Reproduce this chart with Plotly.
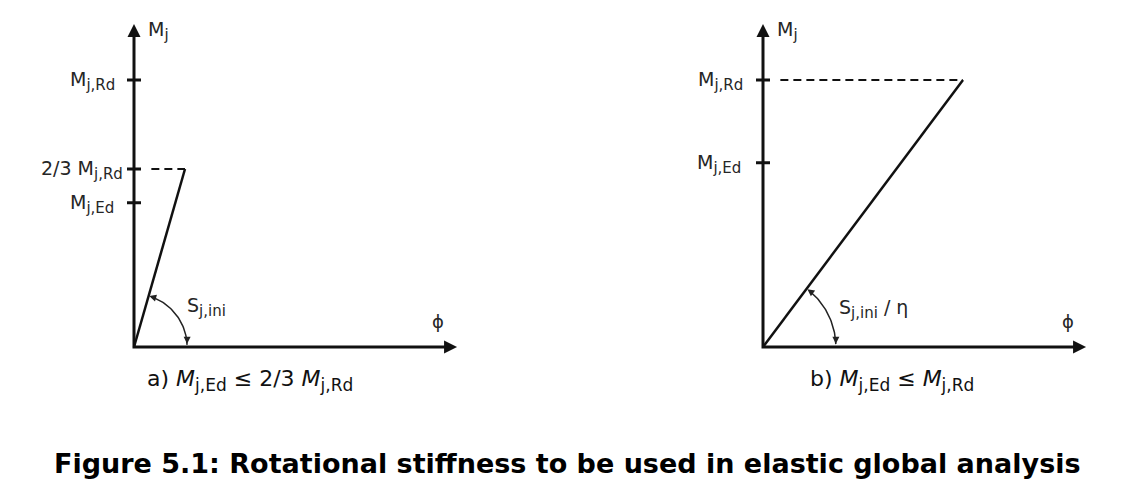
import numpy as np
import plotly.graph_objects as go

# ---- data (moment in units of M_j,Rd, rotation in same drawing units) ----
panels = ["a", "b"]
M_Rd = [1.0, 1.0]
M_Ed = [0.54, 0.69]
M_lim = [2 / 3, 1.0]            # end of the linear branch
phi_end = [0.191, 0.749]        # rotation at end of the linear branch
tick_vals = [[1.0, 2 / 3, 0.54], [1.0, 0.69]]
SUB = "<sub><span style='font-size:15px'>%s</span></sub>"
tick_text = [["M" + SUB % "j,Rd", "2/3 M" + SUB % "j,Rd", "M" + SUB % "j,Ed"],
             ["M" + SUB % "j,Rd", "M" + SUB % "j,Ed"]]
stiff_labels = ["S" + SUB % "j,ini", "S" + SUB % "j,ini" + " / η"]
CSUB = "<sub><span style='font-size:17px'>%s</span></sub>"
captions = ["a) <i>M</i>" + CSUB % "j,Ed" + " ≤ 2/3 <i>M</i>" + CSUB % "j,Rd",
            "b) <i>M</i>" + CSUB % "j,Ed" + " ≤ <i>M</i>" + CSUB % "j,Rd"]
title = "<b>Figure 5.1: Rotational stiffness to be used in elastic global analysis</b>"

# ---- layout constants ----
OFF = 8                         # page body margin
W, H = 1135, 496
S = 267.0                       # pixels per unit
origin_px = [134 - OFF, 763 - OFF]
oy_px = 347 - OFF
AX_LEN = 1.21
arc_r = [0.199, 0.273]
dash_start = 0.065
label_shift = [[-17, -9, -18], [-18, -20]]
stiff_pos = [(0.191, 0.161), (0.277, 0.154)]
phi_pos = [1.139, 1.142]
cap_x = [0.041, 0.169]

FONT = "DejaVu Sans, Liberation Sans, sans-serif"
TXT = "#262626"

fig = go.Figure()
doms = [[0, 0.5], [0.5, 1.0]]
yr = [-(H - oy_px) / S, oy_px / S]
annotations = []

for i in range(2):
    xa = "x" if i == 0 else "x2"
    ya = "y" if i == 0 else "y2"
    lo = doms[i][0] * W
    hi = doms[i][1] * W
    xr = [-(origin_px[i] - lo) / S, (hi - origin_px[i]) / S]
    kx = dict(range=xr, domain=doms[i], visible=False, fixedrange=True)
    ky = dict(range=yr, domain=[0, 1], visible=False, fixedrange=True)
    if i == 0:
        fig.update_layout(xaxis=kx, yaxis=ky)
    else:
        fig.update_layout(xaxis2=dict(kx, anchor="y2"), yaxis2=dict(ky, anchor="x2"))

    line_k = dict(xaxis=xa, yaxis=ya, hoverinfo="skip", showlegend=False)
    # axes
    fig.add_trace(go.Scatter(x=[0, 0, AX_LEN - 0.03], y=[AX_LEN - 0.03, 0, 0], mode="lines",
                             line=dict(color="#111", width=3), **line_k))
    fig.add_trace(go.Scatter(x=[0], y=[AX_LEN], mode="markers",
                             marker=dict(symbol="arrow-up", size=13, color="#111"), **line_k))
    fig.add_trace(go.Scatter(x=[AX_LEN], y=[0], mode="markers",
                             marker=dict(symbol="arrow-right", size=13, color="#111"), **line_k))
    # ticks
    tw = 7 / S
    for v in tick_vals[i]:
        fig.add_trace(go.Scatter(x=[-tw, tw], y=[v, v], mode="lines",
                                 line=dict(color="#111", width=3), **line_k))
    # dashed limit line
    fig.add_trace(go.Scatter(x=[dash_start, phi_end[i]], y=[M_lim[i], M_lim[i]], mode="lines",
                             line=dict(color="#111", width=2, dash="8px,5px"), **line_k))
    # stiffness line
    fig.add_trace(go.Scatter(x=[0, phi_end[i]], y=[0, M_lim[i]], mode="lines",
                             line=dict(color="#111", width=2.5), **line_k))
    # arc with arrowheads
    th = np.arctan2(M_lim[i], phi_end[i])
    t = np.linspace(0.04, th - 0.05, 40)
    r = arc_r[i]
    fig.add_trace(go.Scatter(x=r * np.cos(t), y=r * np.sin(t), mode="lines",
                             line=dict(color="#222", width=1.5), **line_k))
    fig.add_trace(go.Scatter(x=[r, r * np.cos(th - 0.012)], y=[0.012, r * np.sin(th - 0.012)],
                             mode="markers",
                             marker=dict(symbol="arrow-up", size=7, color="#222",
                                         angle=[180, -np.degrees(th)]), **line_k))
    # tick labels
    for v, tt, sh in zip(tick_vals[i], tick_text[i], label_shift[i]):
        annotations.append(dict(x=0, y=v, xref=xa, yref=ya, text=tt, showarrow=False,
                                xanchor="right", yanchor="middle", xshift=sh, yshift=-1,
                                font=dict(size=19, color=TXT, family=FONT)))
    # axis names
    annotations.append(dict(x=0, y=AX_LEN, xref=xa, yref=ya, text="M" + SUB % "j",
                            showarrow=False, xanchor="left", yanchor="top", xshift=12, yshift=8,
                            font=dict(size=19, color=TXT, family=FONT)))
    annotations.append(dict(x=phi_pos[i], y=0.094, xref=xa, yref=ya, text="ϕ",
                            showarrow=False, xanchor="center", yanchor="middle",
                            font=dict(size=18, color=TXT, family=FONT)))
    annotations.append(dict(x=stiff_pos[i][0], y=stiff_pos[i][1], xref=xa, yref=ya,
                            text=stiff_labels[i], showarrow=False, xanchor="left",
                            yanchor="middle", yshift=-3,
                            font=dict(size=19, color=TXT, family=FONT)))
    annotations.append(dict(x=cap_x[i], y=-0.124, xref=xa, yref=ya, text=captions[i],
                            showarrow=False, xanchor="left", yanchor="middle",
                            font=dict(size=22, color="#111", family=FONT)))

annotations.append(dict(x=(567 - OFF) / W, y=1 - (463 - OFF) / H, xref="paper", yref="paper",
                        text=title, showarrow=False, xanchor="center", yanchor="middle",
                        font=dict(size=27, color="#000", family=FONT)))

fig.update_layout(width=W, height=H, margin=dict(l=0, r=0, t=0, b=0),
                  paper_bgcolor="white", plot_bgcolor="white", annotations=annotations)
fig.write_html("out.html")
